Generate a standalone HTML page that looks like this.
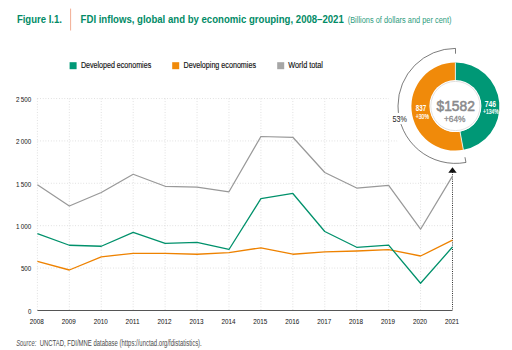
<!DOCTYPE html>
<html><head><meta charset="utf-8"><style>
html,body{margin:0;padding:0;background:#fff;width:512px;height:350px;overflow:hidden}
svg{display:block}
text{font-family:"Liberation Sans",sans-serif}
.g{stroke:#d0d0d0;stroke-width:0.8;stroke-dasharray:0.8 1.9}
.ln{fill:none;stroke-width:1.3;stroke-linejoin:round}
.yl{font-size:8px;fill:#222;stroke:#222;stroke-width:0.04px}
.xl{font-size:8px;fill:#222;stroke:#222;stroke-width:0.05px}
.tt{font-size:11.2px;font-weight:bold;fill:#028b66}
.st{font-size:9.7px;fill:#2d9c7e}
.lg{font-size:8.9px;fill:#111;stroke:#111;stroke-width:0.15px}
.src{font-size:8.6px;fill:#4a4a4a}
.srci{font-size:8.6px;font-style:italic;fill:#555}
.pct{font-size:9.4px;fill:#2a2a2a;stroke:#2a2a2a;stroke-width:0.05px}
.big{font-size:15.5px;fill:#8a8a8c;stroke:#8a8a8c;stroke-width:0.6px}
.mid{font-size:8.8px;fill:#8a8a8c;stroke:#8a8a8c;stroke-width:0.3px}
.wb{font-size:9px;font-weight:bold;fill:#fff}
.ws{font-size:6.4px;fill:#fff;stroke:#fff;stroke-width:0.2px}
</style></head><body>
<svg width="512" height="350" viewBox="0 0 512 350">
<line x1="37.40" y1="268.05" x2="452.49" y2="268.05" class="g"/>
<line x1="37.40" y1="225.67" x2="452.49" y2="225.67" class="g"/>
<line x1="37.40" y1="183.29" x2="452.49" y2="183.29" class="g"/>
<line x1="37.40" y1="140.91" x2="452.49" y2="140.91" class="g"/>
<line x1="37.40" y1="98.53" x2="452.49" y2="98.53" class="g"/>
<line x1="37.40" y1="98.53" x2="37.40" y2="310.43" class="g"/>
<line x1="69.33" y1="98.53" x2="69.33" y2="310.43" class="g"/>
<line x1="101.26" y1="98.53" x2="101.26" y2="310.43" class="g"/>
<line x1="133.19" y1="98.53" x2="133.19" y2="310.43" class="g"/>
<line x1="165.12" y1="98.53" x2="165.12" y2="310.43" class="g"/>
<line x1="197.05" y1="98.53" x2="197.05" y2="310.43" class="g"/>
<line x1="228.98" y1="98.53" x2="228.98" y2="310.43" class="g"/>
<line x1="260.91" y1="98.53" x2="260.91" y2="310.43" class="g"/>
<line x1="292.84" y1="98.53" x2="292.84" y2="310.43" class="g"/>
<line x1="324.77" y1="98.53" x2="324.77" y2="310.43" class="g"/>
<line x1="356.70" y1="98.53" x2="356.70" y2="310.43" class="g"/>
<line x1="388.63" y1="98.53" x2="388.63" y2="310.43" class="g"/>
<line x1="420.56" y1="98.53" x2="420.56" y2="310.43" class="g"/>
<circle cx="455.4" cy="106.6" r="67.5" fill="#fff"/>
<text x="31.3" y="313.83" class="yl" text-anchor="end" textLength="3.4" lengthAdjust="spacingAndGlyphs">0</text>
<text x="31.3" y="271.45" class="yl" text-anchor="end" textLength="10.4" lengthAdjust="spacingAndGlyphs">500</text>
<text x="31.3" y="229.07" class="yl" text-anchor="end" textLength="15.2" lengthAdjust="spacingAndGlyphs">1&#8201;000</text>
<text x="31.3" y="186.69" class="yl" text-anchor="end" textLength="15.2" lengthAdjust="spacingAndGlyphs">1&#8201;500</text>
<text x="31.3" y="144.31" class="yl" text-anchor="end" textLength="15.2" lengthAdjust="spacingAndGlyphs">2&#8201;000</text>
<text x="31.3" y="101.93" class="yl" text-anchor="end" textLength="15.2" lengthAdjust="spacingAndGlyphs">2&#8201;500</text>
<text x="36.80" y="324.3" class="xl" text-anchor="middle" textLength="14" lengthAdjust="spacingAndGlyphs">2008</text>
<text x="68.73" y="324.3" class="xl" text-anchor="middle" textLength="14" lengthAdjust="spacingAndGlyphs">2009</text>
<text x="100.66" y="324.3" class="xl" text-anchor="middle" textLength="14" lengthAdjust="spacingAndGlyphs">2010</text>
<text x="132.59" y="324.3" class="xl" text-anchor="middle" textLength="14" lengthAdjust="spacingAndGlyphs">2011</text>
<text x="164.52" y="324.3" class="xl" text-anchor="middle" textLength="14" lengthAdjust="spacingAndGlyphs">2012</text>
<text x="196.45" y="324.3" class="xl" text-anchor="middle" textLength="14" lengthAdjust="spacingAndGlyphs">2013</text>
<text x="228.38" y="324.3" class="xl" text-anchor="middle" textLength="14" lengthAdjust="spacingAndGlyphs">2014</text>
<text x="260.31" y="324.3" class="xl" text-anchor="middle" textLength="14" lengthAdjust="spacingAndGlyphs">2015</text>
<text x="292.24" y="324.3" class="xl" text-anchor="middle" textLength="14" lengthAdjust="spacingAndGlyphs">2016</text>
<text x="324.17" y="324.3" class="xl" text-anchor="middle" textLength="14" lengthAdjust="spacingAndGlyphs">2017</text>
<text x="356.10" y="324.3" class="xl" text-anchor="middle" textLength="14" lengthAdjust="spacingAndGlyphs">2018</text>
<text x="388.03" y="324.3" class="xl" text-anchor="middle" textLength="14" lengthAdjust="spacingAndGlyphs">2019</text>
<text x="419.96" y="324.3" class="xl" text-anchor="middle" textLength="14" lengthAdjust="spacingAndGlyphs">2020</text>
<text x="451.89" y="324.3" class="xl" text-anchor="middle" textLength="14" lengthAdjust="spacingAndGlyphs">2021</text>
<line x1="37.40" y1="310.5" x2="452.49" y2="310.5" stroke="#555" stroke-width="1"/>
<line x1="452.5" y1="172" x2="452.5" y2="310" stroke="#333" stroke-width="1" stroke-dasharray="1 1.2"/>
<polygon points="452.49 167.2 448.29 172.8 456.69 172.8" fill="#111"/>
<path d="M37.40 184.73 L69.33 206.01 L101.26 192.53 L133.19 174.22 L165.12 186.26 L197.05 187.02 L228.98 191.77 L260.91 136.50 L292.84 137.27 L324.77 172.53 L356.70 188.04 L388.63 185.41 L420.56 229.23 L452.49 176.17" class="ln" stroke="#999" style="stroke-width:1.25"/>
<path d="M37.40 261.27 L69.33 270.00 L101.26 256.78 L133.19 253.30 L165.12 253.47 L197.05 254.23 L228.98 252.54 L260.91 247.79 L292.84 254.23 L324.77 251.78 L356.70 251.01 L388.63 249.57 L420.56 256.01 L452.49 240.16" class="ln" stroke="#ee8200"/>
<path d="M37.40 233.72 L69.33 245.25 L101.26 246.27 L133.19 232.28 L165.12 243.47 L197.05 242.45 L228.98 249.49 L260.91 198.72 L292.84 193.46 L324.77 231.52 L356.70 247.28 L388.63 245.16 L420.56 283.22 L452.49 247.03" class="ln" stroke="#00916b"/>
<path d="M455.40 62.60 A44.00 44.00 0 1 0 463.39 149.87 L460.03 131.68 A25.50 25.50 0 1 1 455.40 81.10 Z" fill="#f08a0a"/>
<path d="M455.40 62.60 A44.00 44.00 0 0 1 463.39 149.87 L460.03 131.68 A25.50 25.50 0 0 0 455.40 81.10 Z" fill="#009876"/>
<line x1="455.40" y1="62.60" x2="455.40" y2="81.10" stroke="#fff" stroke-width="0.8"/>
<line x1="463.39" y1="149.87" x2="460.03" y2="131.68" stroke="#fff" stroke-width="0.8"/>
<circle cx="455.4" cy="106.0" r="26.0" fill="#fff"/>
<circle cx="455.4" cy="106.0" r="24.6" fill="#fff" stroke="#dedede" stroke-width="0.9"/>
<path d="M455.50 53.70 L455.50 48.40 A57.50 57.50 0 0 0 398.00 105.90 A57.50 57.50 0 0 0 465.95 162.44 L464.98 157.23" fill="none" stroke="#444" stroke-width="0.7"/>
<rect x="390" y="113" width="19" height="11" fill="#fff"/>
<text x="399.7" y="122.1" class="pct" text-anchor="middle" textLength="14.5" lengthAdjust="spacingAndGlyphs">53%</text>
<text x="455.7" y="110.6" class="big" text-anchor="middle" textLength="38.3" lengthAdjust="spacingAndGlyphs">$1582</text>
<text x="454.7" y="122" class="mid" text-anchor="middle" textLength="21.5" lengthAdjust="spacingAndGlyphs">+64%</text>
<text x="421" y="111.4" class="wb" text-anchor="middle" textLength="10.4" lengthAdjust="spacingAndGlyphs">837</text>
<text x="422.35" y="118.8" class="ws" text-anchor="middle" textLength="13.1" lengthAdjust="spacingAndGlyphs">+30%</text>
<text x="490.5" y="106.8" class="wb" text-anchor="middle" textLength="11.3" lengthAdjust="spacingAndGlyphs">746</text>
<text x="490.8" y="114" class="ws" text-anchor="middle" textLength="15.6" lengthAdjust="spacingAndGlyphs">+134%</text>
<text x="16.9" y="22.5" class="tt" textLength="45" lengthAdjust="spacingAndGlyphs">Figure I.1.</text>
<line x1="70.6" y1="8.6" x2="70.6" y2="30.5" stroke="#f2ae94" stroke-width="1"/>
<text x="80.6" y="22.5" class="tt" textLength="263.2" lengthAdjust="spacingAndGlyphs">FDI inflows, global and by economic grouping, 2008–2021</text>
<text x="347.7" y="22.9" class="st" textLength="103.8" lengthAdjust="spacingAndGlyphs">(Billions of dollars and per cent)</text>
<rect x="69.60" y="62.2" width="7" height="7" fill="#009876"/>
<text x="80.90" y="68.2" class="lg" textLength="70.3" lengthAdjust="spacingAndGlyphs">Developed economies</text>
<rect x="172.20" y="62.2" width="7" height="7" fill="#f08a0a"/>
<text x="183.50" y="68.2" class="lg" textLength="72.5" lengthAdjust="spacingAndGlyphs">Developing economies</text>
<rect x="277.20" y="62.2" width="7" height="7" fill="#a6a6a6"/>
<text x="288.30" y="68.2" class="lg" textLength="34.7" lengthAdjust="spacingAndGlyphs">World total</text>
<text x="16.25" y="345.9" class="srci" textLength="20" lengthAdjust="spacingAndGlyphs">Source:</text>
<text x="39.75" y="345.9" class="src" textLength="162" lengthAdjust="spacingAndGlyphs">UNCTAD, FDI/MNE database (https://unctad.org/fdistatistics).</text>
</svg>
</body></html>
